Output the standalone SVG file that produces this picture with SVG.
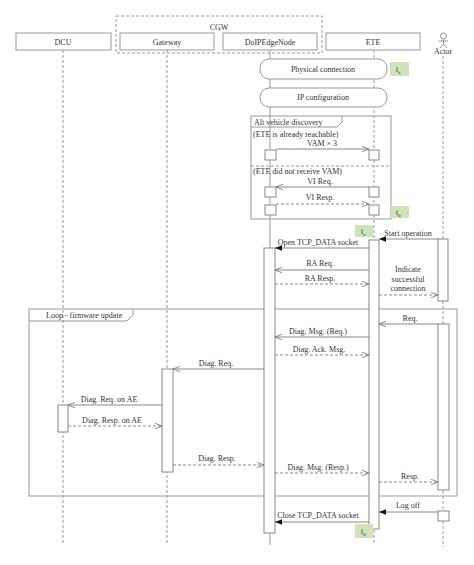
<svg xmlns="http://www.w3.org/2000/svg" width="474" height="565" viewBox="0 0 474 565">
<defs>
<marker id="open" viewBox="0 0 10 10" refX="10" refY="5" markerWidth="7" markerHeight="7" orient="auto-start-reverse" markerUnits="userSpaceOnUse">
<path d="M0,1 L10,5 L0,9" fill="none" stroke="#777" stroke-width="1.2"/>
</marker>
<marker id="fill" viewBox="0 0 10 10" refX="10" refY="5" markerWidth="7" markerHeight="7" orient="auto-start-reverse" markerUnits="userSpaceOnUse">
<path d="M0,1 L10,5 L0,9 Z" fill="#111"/>
</marker>
</defs>
<style>
text{font-family:"Liberation Serif","DejaVu Serif",serif;font-size:8px;fill:#333}
.c{text-anchor:middle}
.hdr{fill:#fff;stroke:#999;stroke-width:1}
.ll{stroke:#999;stroke-width:1;stroke-dasharray:3,2;fill:none}
.lls{stroke:#999;stroke-width:1;fill:none}
.bar{fill:#fff;stroke:#888;stroke-width:1}
.frame{fill:none;stroke:#999;stroke-width:1}
.msg{stroke:#888;stroke-width:1;fill:none;marker-end:url(#open)}
.dmsg{stroke:#888;stroke-width:1;fill:none;stroke-dasharray:3,2;marker-end:url(#open)}
.fmsg{stroke:#888;stroke-width:1;fill:none;marker-end:url(#fill)}
.grn{fill:#cfe3bb;stroke:none}
.state{fill:#fff;stroke:#999;stroke-width:1}
</style>
<rect width="474" height="565" fill="#fff"/>

<g id="cgw">
<rect x="116" y="16" width="206" height="37" fill="none" stroke="#999" stroke-dasharray="3,2"/>
<text class="c" x="219" y="30">CGW</text>
</g>

<g id="lifelines">
<line class="ll" x1="63" y1="50" x2="63" y2="545"/>
<line class="ll" x1="167" y1="50" x2="167" y2="545"/>
<line class="lls" x1="270" y1="50" x2="270" y2="545"/>
<line class="ll" x1="374" y1="50" x2="374" y2="545"/>
<line class="ll" x1="443" y1="56" x2="443" y2="547"/>
</g>

<g id="DCU"><rect class="hdr" x="16" y="33" width="95" height="17"/><text class="c" x="63" y="45">DCU</text></g>
<g id="Gateway"><rect class="hdr" x="120" y="33" width="94" height="17"/><text class="c" x="167" y="45">Gateway</text></g>
<g id="DoIPEdgeNode"><rect class="hdr" x="223" y="33" width="94" height="17"/><text class="c" x="270" y="45">DoIPEdgeNode</text></g>
<g id="ETE"><rect class="hdr" x="326" y="33" width="94" height="17"/><text class="c" x="373" y="45">ETE</text></g>
<g id="Actor" stroke="#888" fill="none" stroke-width="0.9">
<circle cx="443.5" cy="36" r="3"/>
<line x1="443.5" y1="39" x2="443.5" y2="44"/>
<line x1="439" y1="41" x2="448" y2="41"/>
<line x1="443.5" y1="44" x2="440" y2="48"/>
<line x1="443.5" y1="44" x2="447" y2="48"/>
<text class="c" x="443" y="54" stroke="none">Actor</text>
</g>

<g id="phys"><rect class="state" x="260" y="59" width="127" height="20" rx="9" ry="9"/><text class="c" x="323" y="72">Physical connection</text></g>
<g id="ta"><rect class="grn" x="390" y="62" width="19" height="14"/><text x="396" y="72">t<tspan font-size="5" dy="1.5">a</tspan></text></g>
<g id="ipconf"><rect class="state" x="260" y="88" width="127" height="19" rx="9" ry="9"/><text class="c" x="323" y="100">IP configuration</text></g>

<g id="alt">
<rect class="frame" x="251" y="116" width="140" height="103"/>
<path class="frame" d="M251,127 L337,127 L342,122 L342,116"/>
<text x="254" y="125">Alt vehicle discovery</text>
<text x="253" y="137">(ETE is already reachable)</text>
<line x1="251" y1="166" x2="391" y2="166" stroke="#999" stroke-dasharray="3,2"/>
<text x="253" y="174">(ETE did not receive VAM)</text>
<rect class="bar" x="265" y="150" width="11" height="10"/>
<rect class="bar" x="369" y="150" width="10" height="10"/>
<rect class="bar" x="265" y="187" width="11" height="10"/>
<rect class="bar" x="369" y="187" width="10" height="10"/>
<rect class="bar" x="265" y="205" width="11" height="10"/>
<rect class="bar" x="369" y="205" width="10" height="10"/>
</g>
<g id="tb"><rect class="grn" x="391" y="206" width="18" height="12"/><text x="396" y="215">t<tspan font-size="5" dy="1.5">b</tspan></text></g>
<g id="tc"><rect class="grn" x="355" y="225" width="18" height="12"/><text x="361" y="234">t<tspan font-size="5" dy="1.5">c</tspan></text></g>

<g id="loop">
<rect class="frame" x="29" y="309" width="428" height="187"/>
<path class="frame" d="M29,321 L127,321 L133,315 L133,309"/>
<text x="46" y="318">Loop - firmware update</text>
</g>

<g id="activations">
<rect class="bar" x="369" y="240" width="10" height="289"/>
<rect class="bar" x="264" y="248" width="11" height="285"/>
<rect class="bar" x="438" y="239" width="10" height="62"/>
<rect class="bar" x="438" y="324" width="11" height="166"/>
<rect class="bar" x="162" y="369" width="11" height="103"/>
<rect class="bar" x="58" y="405" width="10" height="27"/>
<rect class="bar" x="438" y="511" width="11" height="10"/>
</g>
<g id="td"><rect class="grn" x="355" y="524" width="18" height="14"/><text x="361" y="534">t<tspan font-size="5" dy="1.5">d</tspan></text></g>

<g id="connectors">
<line class="msg" x1="276" y1="149" x2="369" y2="149"/>
<text class="c" x="322" y="146">VAM × 3</text>
<line class="msg" x1="369" y1="187" x2="276" y2="187"/>
<text class="c" x="320" y="184">VI Req.</text>
<line class="dmsg" x1="276" y1="204" x2="369" y2="204"/>
<text class="c" x="320" y="200">VI Resp.</text>

<line class="fmsg" x1="438" y1="239" x2="379" y2="239"/>
<text class="c" x="408" y="236">Start operation</text>
<line class="fmsg" x1="369" y1="248" x2="275" y2="248"/>
<text class="c" x="318" y="245">Open TCP_DATA socket</text>
<line class="msg" x1="369" y1="270" x2="275" y2="270"/>
<text class="c" x="320" y="266">RA Req.</text>
<line class="dmsg" x1="275" y1="284" x2="369" y2="284"/>
<text class="c" x="320" y="281">RA Resp.</text>
<line class="dmsg" x1="379" y1="295" x2="438" y2="295"/>
<text class="c" x="408" y="272">Indicate</text>
<text class="c" x="408" y="282">successful</text>
<text class="c" x="408" y="291">connection</text>

<line class="msg" x1="438" y1="324" x2="379" y2="324"/>
<text class="c" x="410" y="321">Req.</text>
<line class="msg" x1="369" y1="337" x2="275" y2="337"/>
<text class="c" x="318" y="334">Diag. Msg. (Req.)</text>
<line class="dmsg" x1="275" y1="355" x2="369" y2="355"/>
<text class="c" x="319" y="352">Diag. Ack. Msg.</text>
<line class="msg" x1="264" y1="369" x2="173" y2="369"/>
<text class="c" x="216" y="366">Diag. Req.</text>
<line class="msg" x1="162" y1="405" x2="68" y2="405"/>
<text class="c" x="109" y="402">Diag. Req. on AE</text>
<line class="dmsg" x1="68" y1="426" x2="162" y2="426"/>
<text class="c" x="112" y="423">Diag. Resp. on AE</text>
<line class="dmsg" x1="173" y1="465" x2="264" y2="465"/>
<text class="c" x="217" y="461">Diag. Resp.</text>
<line class="dmsg" x1="275" y1="473" x2="369" y2="473"/>
<text class="c" x="318" y="470">Diag. Msg. (Resp.)</text>
<line class="dmsg" x1="379" y1="482" x2="438" y2="482"/>
<text class="c" x="410" y="479">Resp.</text>

<line class="fmsg" x1="438" y1="512" x2="379" y2="512"/>
<text class="c" x="408" y="508">Log off</text>
<line class="fmsg" x1="369" y1="522" x2="275" y2="522"/>
<text class="c" x="318" y="518">Close TCP_DATA socket</text>
</g>
</svg>
